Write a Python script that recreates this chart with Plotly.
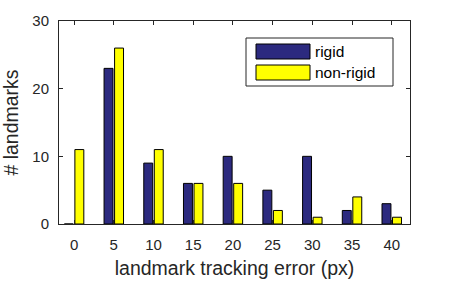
import plotly.graph_objects as go

categories = [0, 5, 10, 15, 20, 25, 30, 35, 40]
rigid = [0, 23, 9, 6, 10, 5, 10, 2, 3]
non_rigid = [11, 26, 11, 6, 6, 2, 1, 4, 1]
series_names = ["rigid", "non-rigid"]
series_colors = ["#2c2a7f", "#ffff00"]
y_ticks = [0, 10, 20, 30]

W, H = 453, 281
L, R, T, B = 59, 43, 21, 57
font = "Liberation Sans, Arial, sans-serif"

fig = go.Figure()
for name, vals, col in zip(series_names, [rigid, non_rigid], series_colors):
    fig.add_trace(go.Bar(x=categories, y=vals, name=name, marker_color=col,
                         marker_line_color="#000000", marker_line_width=1,
                         showlegend=False))

axis_common = dict(showline=True, linecolor="#262626", linewidth=1, mirror="ticks",
                   ticks="inside", ticklen=4, tickcolor="#262626", showgrid=False,
                   zeroline=False, automargin=False,
                   tickfont=dict(family=font, size=15, color="#262626"))

fig.update_layout(
    width=W, height=H, margin=dict(l=L, r=R, t=T, b=B),
    paper_bgcolor="white", plot_bgcolor="white",
    barmode="group", bargap=0.47, bargroupgap=0.15,
    xaxis=dict(range=[-1.9, 42.3], tickvals=categories, ticklabelstandoff=7,
               title=dict(text="landmark tracking error (px)", font=dict(family=font, size=19.5, color="#262626"), standoff=9),
               **axis_common),
    yaxis=dict(range=[0, 30], tickvals=y_ticks, ticklabelstandoff=6,
               title=dict(text="# landmarks", font=dict(family=font, size=19.5, color="#262626"), standoff=9),
               **axis_common),
)

# legend drawn in plot-paper coordinates
pw, ph = W - L - R, H - T - B
def px(x): return (x - L) / pw
def py(y): return (H - B - y) / ph

fig.add_shape(type="rect", xref="paper", yref="paper", x0=px(246), x1=px(393), y0=py(86), y1=py(38),
              line=dict(color="#262626", width=1), fillcolor="white", layer="above")
rows = [(44, 59), (65, 80)]
for (t, b), name, col in zip(rows, series_names, series_colors):
    fig.add_shape(type="rect", xref="paper", yref="paper", x0=px(256), x1=px(310), y0=py(b), y1=py(t),
                  line=dict(color="#000000", width=1), fillcolor=col, layer="above")
    fig.add_annotation(xref="paper", yref="paper", x=px(313), y=py((t + b) / 2), text=name,
                       showarrow=False, xanchor="left", yanchor="middle",
                       font=dict(family=font, size=15.5, color="#000000"))

fig.write_html("out.html")
